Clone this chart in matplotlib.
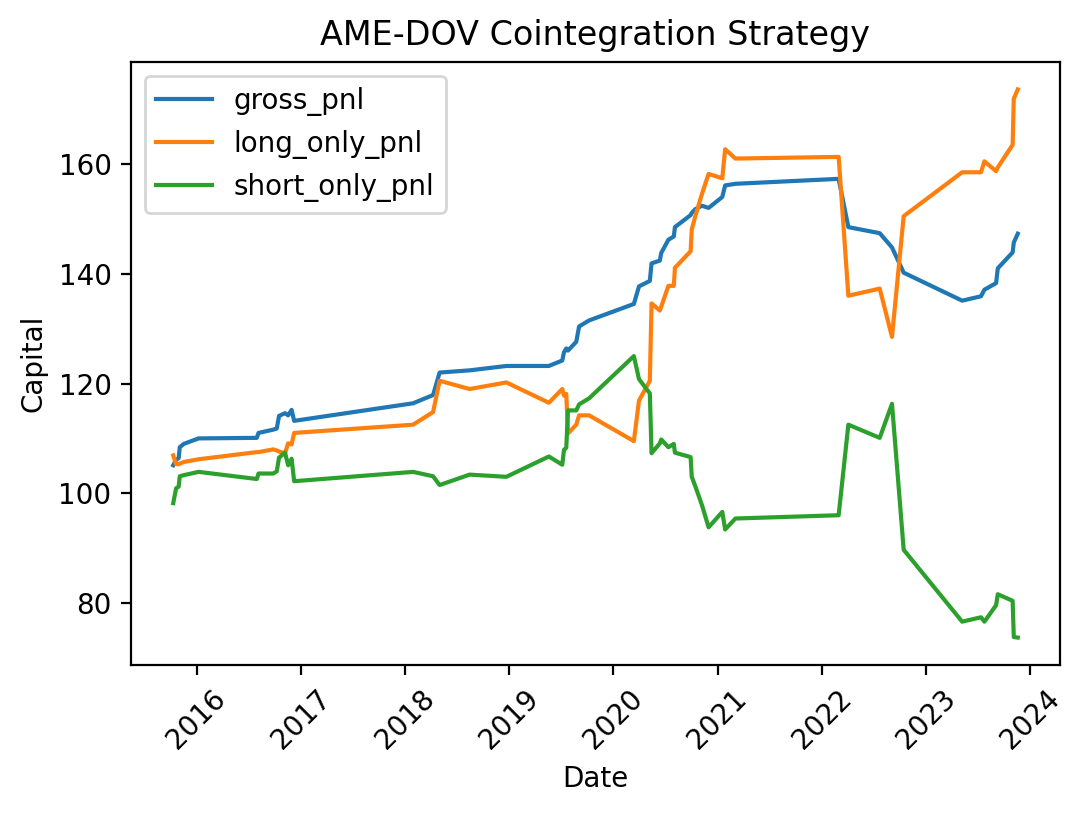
import matplotlib
matplotlib.use("Agg")
import matplotlib.pyplot as plt
import pandas as pd

dates = [
    "2015-10-11", "2015-10-21", "2015-10-30", "2015-11-03", "2015-11-17",
    "2016-01-08", "2016-07-30", "2016-08-05", "2016-09-26", "2016-10-08",
    "2016-10-16", "2016-11-06", "2016-11-17", "2016-11-29", "2016-12-08",
    "2018-01-29", "2018-04-09", "2018-05-02", "2018-08-15", "2018-12-22",
    "2019-05-20", "2019-07-06", "2019-07-12", "2019-07-20", "2019-07-26",
    "2019-08-24", "2019-09-03", "2019-10-08", "2020-03-13", "2020-03-31",
    "2020-05-08", "2020-05-14", "2020-06-12", "2020-06-17", "2020-07-12",
    "2020-07-31", "2020-08-04", "2020-09-28", "2020-10-02", "2020-10-15",
    "2020-11-07", "2020-11-30", "2021-01-17", "2021-01-27", "2021-03-04",
    "2022-03-01", "2022-04-04", "2022-07-23", "2022-09-04", "2022-10-15",
    "2023-05-08", "2023-07-13", "2023-07-25", "2023-09-04", "2023-09-10",
    "2023-11-01", "2023-11-05", "2023-11-19",
]

gross_pnl = [
    105.1, 106.1, 106.4, 108.4, 109.0,
    110.0, 110.1, 111.0, 111.6, 111.8,
    114.1, 114.6, 114.2, 115.2, 113.2,
    116.4, 117.9, 122.0, 122.4, 123.2,
    123.2, 124.2, 125.7, 126.4, 126.0,
    127.6, 130.4, 131.5, 134.5, 137.7,
    138.7, 141.9, 142.4, 143.8, 146.2,
    146.8, 148.5, 150.7, 151.1, 151.8,
    152.4, 152.0, 154.0, 156.1, 156.4,
    157.3, 148.5, 147.4, 144.8, 140.2,
    135.1, 135.9, 137.1, 138.3, 141.0,
    143.9, 145.7, 147.3,
]

long_only_pnl = [
    106.9, 105.3, 105.3, 105.4, 105.7,
    106.2, 107.5, 107.5, 108.0, 107.8,
    107.6, 107.3, 109.1, 108.9, 111.0,
    112.5, 114.8, 120.5, 119.0, 120.2,
    116.5, 119.0, 117.8, 118.1, 110.9,
    112.5, 114.2, 114.2, 109.5, 116.9,
    120.5, 134.6, 133.3, 134.0, 137.8,
    137.8, 141.1, 144.1, 148.1, 150.6,
    154.6, 158.2, 157.4, 162.7, 161.0,
    161.3, 136.0, 137.3, 128.5, 150.5,
    158.5, 158.5, 160.5, 158.7, 159.4,
    163.5, 171.9, 173.6,
]

short_only_pnl = [
    98.2, 100.9, 101.2, 103.1, 103.3,
    103.9, 102.6, 103.6, 103.6, 104.0,
    106.5, 107.4, 105.1, 106.3, 102.2,
    103.9, 103.1, 101.5, 103.4, 103.0,
    106.7, 105.2, 107.9, 108.3, 115.1,
    115.1, 116.2, 117.3, 125.0, 120.8,
    118.2, 107.3, 109.1, 109.8, 108.4,
    109.0, 107.4, 106.6, 103.0, 101.2,
    97.8, 93.8, 96.6, 93.4, 95.4,
    96.0, 112.5, 110.1, 116.3, 89.7,
    76.6, 77.4, 76.6, 79.6, 81.6,
    80.4, 73.8, 73.7,
]

df = pd.DataFrame({
    "gross_pnl": gross_pnl,
    "long_only_pnl": long_only_pnl,
    "short_only_pnl": short_only_pnl,
}, index=pd.to_datetime(dates))

fig = plt.figure(figsize=(10.87 / 2, 8.14 / 2), dpi=200)
ax = fig.add_axes([131 / 1087, 1 - 665 / 814, (1060 - 131) / 1087, (665 - 62) / 814])
for col in ["gross_pnl", "long_only_pnl", "short_only_pnl"]:
    ax.plot(df.index, df[col], label=col)

ax.set_title("AME-DOV Cointegration Strategy")
ax.set_xlabel("Date")
ax.set_ylabel("Capital")
ax.legend(loc="upper left")
plt.setp(ax.get_xticklabels(), rotation=45)

fig.savefig("out.png", dpi=200)
